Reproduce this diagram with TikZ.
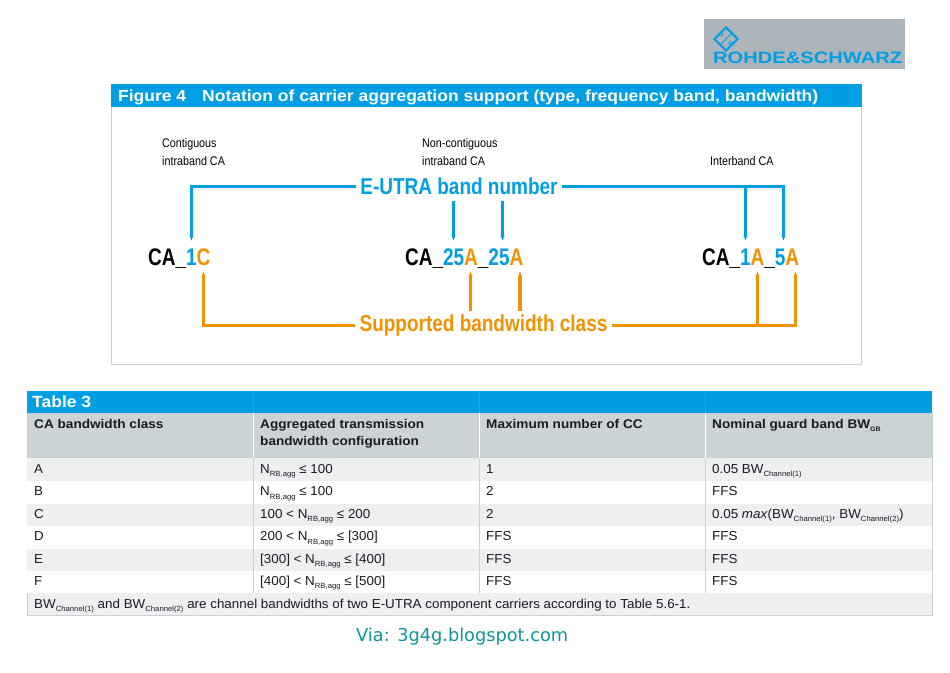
\documentclass[tikz,border=0pt]{standalone}
\usepackage{fontspec}
\usetikzlibrary{arrows.meta,shapes.geometric}
\setmainfont[FakeStretch=1.03]{Liberation Sans}
\newfontfamily\condf[FakeStretch=0.86]{Liberation Sans}
\newfontfamily\condc[FakeStretch=0.79,BoldFont={Liberation Sans Bold}]{Liberation Sans}
\newfontfamily\condb[FakeStretch=0.825,BoldFont={Liberation Sans Bold}]{Liberation Sans}
\newfontfamily\wideb[FakeStretch=1.08]{Liberation Sans Bold}
\newfontfamily\widec[FakeStretch=1.093]{Liberation Sans Bold}
\newfontfamily\logob[FakeStretch=1.22]{Liberation Sans Bold}
\newfontfamily\viaf{DejaVu Sans}
\definecolor{rsblue}{HTML}{009FE3}
\definecolor{rsorange}{HTML}{F39200}
\definecolor{headgray}{HTML}{CBD3D6}
\definecolor{rowgray}{HTML}{EEEFF1}
\definecolor{edgegray}{HTML}{C8D0D4}
\definecolor{logogray}{HTML}{ADB5BA}
\definecolor{viateal}{HTML}{0E969C}
\definecolor{ink}{HTML}{1A1A22}
\newcommand{\sbb}[1]{\raisebox{-3.6pt}{\fontsize{7.5}{9}\selectfont #1}}
\newcommand{\cell}[4]{\node[txt] (#1) at (#2,#3) {#4};}
\newcommand{\hcell}[4]{\node[htxt] (#1) at (#2,#3) {#4};}
\tikzset{
  txt/.style={anchor=base west,inner sep=0pt,text=ink,font=\fontsize{13}{15}\selectfont},
  htxt/.style={anchor=base west,inner sep=0pt,text=ink,font=\wideb\fontsize{12.6}{15}\selectfont},
  small/.style={anchor=base west,inner sep=0pt,text=black,font=\condf\fontsize{12.5}{15}\selectfont},
  calabel/.style={anchor=base west,inner sep=0pt,font=\condc\bfseries\fontsize{24}{28}\selectfont},
  bigblue/.style={inner ysep=0pt,inner xsep=4.5pt,text=rsblue,font=\condb\bfseries\fontsize{23}{27}\selectfont},
  bigorange/.style={inner ysep=0pt,inner xsep=4.5pt,text=rsorange,font=\condb\bfseries\fontsize{23}{27}\selectfont},
  bluearrow/.style={draw=rsblue,line width=3.2pt,-{Triangle[length=6pt,width=3.6pt]}},
  orangearrow/.style={draw=rsorange,line width=3.2pt,-{Triangle[length=6pt,width=3.6pt]}},
}
\begin{document}
\begin{tikzpicture}[x=1pt,y=-1pt]
\useasboundingbox (0,0) rectangle (950,672);
\fill[white] (0,0) rectangle (950,672);
% logo
\fill[logogray] (704,19) rectangle (905,69);
\node[diamond,draw=rsblue,line width=2pt,minimum width=24pt,minimum height=24pt,inner sep=0pt,aspect=1] (logod) at (726,39) {};
\coordinate (ld1) at (720,45);
\coordinate (ld2) at (732,33);
\draw[rsblue,line width=.8pt] (ld1) -- (ld2);
\node[inner sep=0pt,text=rsblue,rotate=-45,font=\bfseries\fontsize{6.5}{7}\selectfont] (logor) at (721.5,35) {R};
\node[inner sep=0pt,text=rsblue,rotate=-45,font=\bfseries\fontsize{6.5}{7}\selectfont] (logos) at (730.5,43.5) {S};
\node[anchor=base west,inner sep=0pt,text=rsblue,font=\logob\fontsize{16.5}{18}\selectfont] (logotext) at (713,63) {ROHDE\&SCHWARZ};
% figure frame
\draw[edgegray,line width=1pt] (111,107) -- (111,364) -- (861.5,364) -- (861.5,107);
\fill[rsblue] (111,84) rectangle (862,107);
\node[anchor=base west,inner sep=0pt,text=white,font=\widec\fontsize{16}{18}\selectfont] (figa) at (118,101) {Figure 4};
\node[anchor=base west,inner sep=0pt,text=white,font=\widec\fontsize{16}{18}\selectfont] (figb) at (202,101) {Notation of carrier aggregation support (type, frequency band, bandwidth)};
% small labels
\node[small] (l1a) at (162,147.5) {Contiguous};
\node[small] (l1b) at (162,165) {intraband CA};
\node[small] (l2a) at (422,147.5) {Non-contiguous};
\node[small] (l2b) at (422,165) {intraband CA};
\node[small] (l3) at (710,165) {Interband CA};
% CA labels
\node[calabel] (ca1) at (148,265) {CA\_{\color{rsblue}1}{\color{rsorange}C}};
\node[calabel] (ca2) at (405,265) {CA\_{\color{rsblue}25}{\color{rsorange}A}\_{\color{rsblue}25}{\color{rsorange}A}};
\node[calabel] (ca3) at (702,265) {CA\_{\color{rsblue}1}{\color{rsorange}A}\_{\color{rsblue}5}{\color{rsorange}A}};
% band labels
\node[bigblue] (eutra) at (459,186) {E-UTRA band number};
\node[bigorange] (sbc) at (483.5,326) {Supported bandwidth class};
% blue connectors
\coordinate (by) at (0,186.7);
\coordinate (bt1) at (191.5,241);
\coordinate (bs2) at (453.5,200.5);
\coordinate (bt2) at (453.5,241);
\coordinate (bs3) at (502.5,200.5);
\coordinate (bt3) at (502.5,241);
\coordinate (bj4) at (745.5,186.7);
\coordinate (bt4) at (745.5,241);
\coordinate (bt5) at (783.5,241);
\draw[bluearrow] (eutra.west|-by) -| (bt1);
\draw[bluearrow] (bs2) -- (bt2);
\draw[bluearrow] (bs3) -- (bt3);
\draw[bluearrow] (bj4) -- (bt4);
\draw[bluearrow] (eutra.east|-by) -| (bt5);
% orange connectors
\coordinate (oy) at (0,325.7);
\coordinate (ot1) at (203.5,271);
\coordinate (os2) at (470.5,311);
\coordinate (ot2) at (470.5,271);
\coordinate (os3) at (520,311);
\coordinate (ot3) at (520,271);
\coordinate (oj4) at (757.5,325.7);
\coordinate (ot4) at (757.5,271);
\coordinate (ot5) at (795.5,271);
\draw[orangearrow] (sbc.west|-oy) -| (ot1);
\draw[orangearrow] (os2) -- (ot2);
\draw[orangearrow] (os3) -- (ot3);
\draw[orangearrow] (oj4) -- (ot4);
\draw[orangearrow] (sbc.east|-oy) -| (ot5);
% table fills
\fill[rsblue] (27,391) rectangle (932,413);
\fill[headgray] (27,413) rectangle (932,458);
\fill[rowgray] (27,458) rectangle (932,481);
\fill[rowgray] (27,503.5) rectangle (932,526);
\fill[rowgray] (27,548.5) rectangle (932,571);
\fill[rowgray] (27,593) rectangle (932,615);
% table rules
\foreach \c in {253.5,479.5,705.5}{
  \draw[white,line width=1pt] (\c,413) -- (\c,458);
  \draw[edgegray,line width=.8pt] (\c,458) -- (\c,593);
  \draw[rsblue!88!white,line width=.5pt] (\c,391) -- (\c,413);
}
\draw[edgegray,line width=1pt] (27,593) -- (27,615.5) -- (932,615.5) -- (932,413);
\node[anchor=base west,inner sep=0pt,text=white,font=\wideb\fontsize{16.2}{18}\selectfont] (tabt) at (32,407.5) {Table 3};
% header
\hcell{h1}{34}{428}{CA bandwidth class}
\hcell{h2a}{260}{428}{Aggregated transmission}
\hcell{h2b}{260}{445}{bandwidth configuration}
\hcell{h3}{486}{428}{Maximum number of CC}
\hcell{h4}{712}{428}{Nominal guard band BW\raisebox{-3pt}{\fontsize{6.5}{8}\selectfont GB}}
% rows
\cell{a1}{34}{473}{A}
\cell{b1}{34}{495.5}{B}
\cell{c1}{34}{518}{C}
\cell{d1}{34}{540.5}{D}
\cell{e1}{34}{563}{E}
\cell{f1}{34}{585}{F}
\cell{a2}{260}{473}{N\sbb{RB,agg} ≤ 100}
\cell{b2}{260}{495.5}{N\sbb{RB,agg} ≤ 100}
\cell{c2}{260}{518}{100 < N\sbb{RB,agg} ≤ 200}
\cell{d2}{260}{540.5}{200 < N\sbb{RB,agg} ≤ [300]}
\cell{e2}{260}{563}{[300] < N\sbb{RB,agg} ≤ [400]}
\cell{f2}{260}{585}{[400] < N\sbb{RB,agg} ≤ [500]}
\cell{a3}{486}{473}{1}
\cell{b3}{486}{495.5}{2}
\cell{c3}{486}{518}{2}
\cell{d3}{486}{540.5}{FFS}
\cell{e3}{486}{563}{FFS}
\cell{f3}{486}{585}{FFS}
\cell{a4}{712}{473}{0.05 BW\sbb{Channel(1)}}
\cell{b4}{712}{495.5}{FFS}
\cell{c4}{712}{518}{0.05 \textit{max}(BW\sbb{Channel(1)}, BW\sbb{Channel(2)})}
\cell{d4}{712}{540.5}{FFS}
\cell{e4}{712}{563}{FFS}
\cell{f4}{712}{585}{FFS}
\cell{foot}{34}{608}{BW\sbb{Channel(1)} and BW\sbb{Channel(2)} are channel bandwidths of two E-UTRA component carriers according to Table 5.6-1.}
% via
\node[anchor=base west,inner sep=0pt,text=viateal,font=\viaf\fontsize{17.75}{20}\selectfont] (via) at (356,641) {Via: 3g4g.blogspot.com};
\end{tikzpicture}
\end{document}
